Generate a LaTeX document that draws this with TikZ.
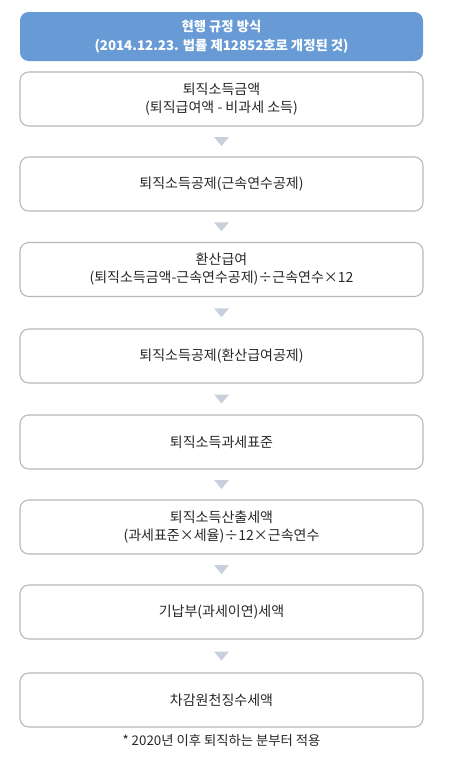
\documentclass[tikz,border=0pt]{standalone}
\usepackage{fontspec}
\usetikzlibrary{calc}
\setmainfont{Noto Sans CJK KR}
\newfontfamily\kr{Noto Sans CJK KR}
\definecolor{headblue}{RGB}{104,155,214}
\definecolor{boxgray}{RGB}{184,184,184}
\definecolor{arrowgray}{RGB}{200,209,219}
\definecolor{txt}{RGB}{40,40,40}
\begin{document}
\begin{tikzpicture}[x=0.75pt,y=-0.75pt,
  stepbox/.style={draw=boxgray,line width=0.8pt,rounded corners=6.5pt,fill=white,
    minimum width=403*0.75pt,minimum height=54*0.75pt,align=center,inner sep=0pt,
    font=\kr\fontsize{10.5pt}{13.5pt}\selectfont,text=txt},
  headbox/.style={fill=headblue,rounded corners=6.5pt,
    minimum width=403*0.75pt,minimum height=49*0.75pt,align=center,inner sep=0pt,
    font=\kr\bfseries\fontsize{10pt}{14pt}\selectfont,text=white},
  tri/.style={fill=arrowgray,draw=none}]
\useasboundingbox (0,0) rectangle (462,761);
\fill[white] (0,0) rectangle (462,761);
\node[headbox] (h) at (221.5,36.5) {현행 규정 방식\\(2014.12.23. 법률 제12852호로 개정된 것)};
\node[stepbox] (b1) at (221.5,99) {퇴직소득금액\\(퇴직급여액 - 비과세 소득)};
\node[stepbox] (b2) at (221.5,184) {퇴직소득공제(근속연수공제)};
\node[stepbox] (b3) at (221.5,269.5) {환산급여\\(퇴직소득금액-근속연수공제)÷근속연수×12};
\node[stepbox] (b4) at (221.5,356) {퇴직소득공제(환산급여공제)};
\node[stepbox] (b5) at (221.5,442) {퇴직소득과세표준};
\node[stepbox] (b6) at (221.5,527) {퇴직소득산출세액\\(과세표준×세율)÷12×근속연수};
\node[stepbox] (b7) at (221.5,612) {기납부(과세이연)세액};
\node[stepbox] (b8) at (221.5,700) {차감원천징수세액};
\node[font=\kr\fontsize{10pt}{12pt}\selectfont,text=txt] (fn) at (221.5,740) {* 2020년 이후 퇴직하는 분부터 적용};
\foreach \a/\b in {b1/b2,b2/b3,b3/b4,b4/b5,b5/b6,b6/b7,b7/b8}{
  \path (\a.south) -- (\b.north) coordinate[midway] (m\a);
  \fill[tri] ($(m\a)+(-7.5,-4.5)$) -- ($(m\a)+(7.5,-4.5)$) -- ($(m\a)+(0,4.5)$) -- cycle;
}
\end{tikzpicture}
\end{document}
